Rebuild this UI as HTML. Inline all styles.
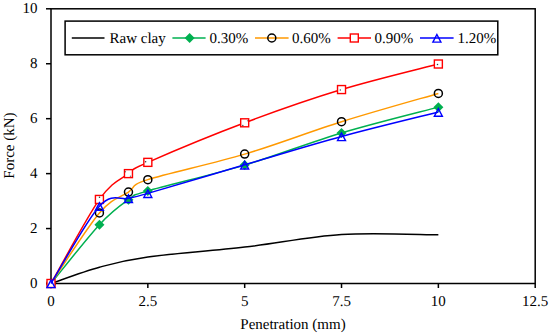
<!DOCTYPE html>
<html><head><meta charset="utf-8"><style>
html,body{margin:0;padding:0;background:#fff;}
body{width:550px;height:336px;overflow:hidden;}
svg{display:block;}
.t{font-family:"Liberation Serif",serif;font-size:15px;fill:#000;text-rendering:geometricPrecision;}
svg{-webkit-font-smoothing:antialiased;}
</style></head><body>
<svg width="550" height="336" viewBox="0 0 550 336">
<rect width="550" height="336" fill="#fff"/>
<rect x="51.00" y="8.80" width="484.20" height="274.70" fill="none" stroke="#000" stroke-width="1.5"/>
<line x1="46" y1="283.50" x2="51.00" y2="283.50" stroke="#000" stroke-width="1.5"/>
<text x="37.5" y="287.80" text-anchor="end" class="t">0</text>
<line x1="46" y1="228.56" x2="51.00" y2="228.56" stroke="#000" stroke-width="1.5"/>
<text x="37.5" y="232.86" text-anchor="end" class="t">2</text>
<line x1="46" y1="173.62" x2="51.00" y2="173.62" stroke="#000" stroke-width="1.5"/>
<text x="37.5" y="177.92" text-anchor="end" class="t">4</text>
<line x1="46" y1="118.68" x2="51.00" y2="118.68" stroke="#000" stroke-width="1.5"/>
<text x="37.5" y="122.98" text-anchor="end" class="t">6</text>
<line x1="46" y1="63.74" x2="51.00" y2="63.74" stroke="#000" stroke-width="1.5"/>
<text x="37.5" y="68.04" text-anchor="end" class="t">8</text>
<line x1="46" y1="8.80" x2="51.00" y2="8.80" stroke="#000" stroke-width="1.5"/>
<text x="37.5" y="13.10" text-anchor="end" class="t">10</text>
<line x1="51.00" y1="283.50" x2="51.00" y2="288" stroke="#000" stroke-width="1.5"/>
<text x="51.00" y="306.4" text-anchor="middle" class="t">0</text>
<line x1="147.84" y1="283.50" x2="147.84" y2="288" stroke="#000" stroke-width="1.5"/>
<text x="147.84" y="306.4" text-anchor="middle" class="t">2.5</text>
<line x1="244.68" y1="283.50" x2="244.68" y2="288" stroke="#000" stroke-width="1.5"/>
<text x="244.68" y="306.4" text-anchor="middle" class="t">5</text>
<line x1="341.52" y1="283.50" x2="341.52" y2="288" stroke="#000" stroke-width="1.5"/>
<text x="341.52" y="306.4" text-anchor="middle" class="t">7.5</text>
<line x1="438.36" y1="283.50" x2="438.36" y2="288" stroke="#000" stroke-width="1.5"/>
<text x="438.36" y="306.4" text-anchor="middle" class="t">10</text>
<line x1="535.20" y1="283.50" x2="535.20" y2="288" stroke="#000" stroke-width="1.5"/>
<text x="535.20" y="306.4" text-anchor="middle" class="t">12.5</text>
<text x="293" y="328.7" text-anchor="middle" class="t">Penetration (mm)</text>
<text transform="translate(13.6,145.6) rotate(-90)" text-anchor="middle" class="t">Force (kN)</text>
<path d="M51.00,283.50 C59.07,280.79 83.28,271.65 99.42,267.24 C115.56,262.82 123.63,260.37 147.84,257.02 C172.05,253.66 212.40,250.87 244.68,247.10 C276.96,243.33 309.24,236.46 341.52,234.41 C373.80,232.36 422.22,234.73 438.36,234.80" fill="none" stroke="#000000" stroke-width="1.50"/>
<path d="M51.00,283.50 C59.07,273.70 86.51,238.68 99.42,224.71 C112.33,210.75 120.40,205.35 128.47,199.72 C136.54,194.09 128.47,196.69 147.84,190.93 C167.21,185.16 212.40,174.76 244.68,165.10 C276.96,155.44 309.24,142.62 341.52,132.96 C373.80,123.30 422.22,111.45 438.36,107.14" fill="none" stroke="#00B050" stroke-width="1.50"/>
<path d="M51.00,278.50 L56.00,283.50 L51.00,288.50 L46.00,283.50 Z" fill="#00B050"/>
<path d="M99.42,219.71 L104.42,224.71 L99.42,229.71 L94.42,224.71 Z" fill="#00B050"/>
<path d="M128.47,194.72 L133.47,199.72 L128.47,204.72 L123.47,199.72 Z" fill="#00B050"/>
<path d="M147.84,185.93 L152.84,190.93 L147.84,195.93 L142.84,190.93 Z" fill="#00B050"/>
<path d="M244.68,160.10 L249.68,165.10 L244.68,170.10 L239.68,165.10 Z" fill="#00B050"/>
<path d="M341.52,127.96 L346.52,132.96 L341.52,137.96 L336.52,132.96 Z" fill="#00B050"/>
<path d="M438.36,102.14 L443.36,107.14 L438.36,112.14 L433.36,107.14 Z" fill="#00B050"/>
<path d="M51.00,283.50 C59.07,271.73 86.51,228.15 99.42,212.90 C112.33,197.66 120.40,197.56 128.47,192.02 C136.54,186.49 128.47,185.98 147.84,179.66 C167.21,173.35 212.40,163.78 244.68,154.12 C276.96,144.46 309.24,131.82 341.52,121.70 C373.80,111.58 422.22,98.12 438.36,93.41" fill="none" stroke="#FF9900" stroke-width="1.50"/>
<circle cx="51.00" cy="283.50" r="4.0" fill="none" stroke="#000" stroke-width="1.5"/>
<circle cx="99.42" cy="212.90" r="4.0" fill="none" stroke="#000" stroke-width="1.5"/>
<circle cx="128.47" cy="192.02" r="4.0" fill="none" stroke="#000" stroke-width="1.5"/>
<circle cx="147.84" cy="179.66" r="4.0" fill="none" stroke="#000" stroke-width="1.5"/>
<circle cx="244.68" cy="154.12" r="4.0" fill="none" stroke="#000" stroke-width="1.5"/>
<circle cx="341.52" cy="121.70" r="4.0" fill="none" stroke="#000" stroke-width="1.5"/>
<circle cx="438.36" cy="93.41" r="4.0" fill="none" stroke="#000" stroke-width="1.5"/>
<path d="M51.00,283.50 C59.07,269.49 86.51,217.76 99.42,199.44 C112.33,181.13 120.40,179.80 128.47,173.62 C136.54,167.44 128.47,170.83 147.84,162.36 C167.21,153.89 212.40,134.93 244.68,122.80 C276.96,110.67 309.24,99.36 341.52,89.56 C373.80,79.76 422.22,68.27 438.36,64.01" fill="none" stroke="#FF0000" stroke-width="1.50"/>
<rect x="47.00" y="279.50" width="8" height="8" fill="#fff" stroke="#FF0000" stroke-width="1.4"/>
<rect x="95.42" y="195.44" width="8" height="8" fill="#fff" stroke="#FF0000" stroke-width="1.4"/>
<rect x="124.47" y="169.62" width="8" height="8" fill="#fff" stroke="#FF0000" stroke-width="1.4"/>
<rect x="143.84" y="158.36" width="8" height="8" fill="#fff" stroke="#FF0000" stroke-width="1.4"/>
<rect x="240.68" y="118.80" width="8" height="8" fill="#fff" stroke="#FF0000" stroke-width="1.4"/>
<rect x="337.52" y="85.56" width="8" height="8" fill="#fff" stroke="#FF0000" stroke-width="1.4"/>
<rect x="434.36" y="60.01" width="8" height="8" fill="#fff" stroke="#FF0000" stroke-width="1.4"/>
<path d="M51.00,283.50 C59.07,270.63 86.51,220.50 99.42,206.31 C112.33,192.12 120.40,200.49 128.47,198.34 C136.54,196.19 128.47,198.98 147.84,193.40 C167.21,187.81 212.40,174.31 244.68,164.83 C276.96,155.35 309.24,145.33 341.52,136.54 C373.80,127.75 422.22,116.16 438.36,112.09" fill="none" stroke="#0000FF" stroke-width="1.50"/>
<path d="M51.00,280.00 L55.00,287.60 L47.00,287.60 Z" fill="none" stroke="#0000FF" stroke-width="1.4" stroke-linejoin="miter"/>
<path d="M99.42,202.81 L103.42,210.41 L95.42,210.41 Z" fill="none" stroke="#0000FF" stroke-width="1.4" stroke-linejoin="miter"/>
<path d="M128.47,194.84 L132.47,202.44 L124.47,202.44 Z" fill="none" stroke="#0000FF" stroke-width="1.4" stroke-linejoin="miter"/>
<path d="M147.84,189.90 L151.84,197.50 L143.84,197.50 Z" fill="none" stroke="#0000FF" stroke-width="1.4" stroke-linejoin="miter"/>
<path d="M244.68,161.33 L248.68,168.93 L240.68,168.93 Z" fill="none" stroke="#0000FF" stroke-width="1.4" stroke-linejoin="miter"/>
<path d="M341.52,133.04 L345.52,140.64 L337.52,140.64 Z" fill="none" stroke="#0000FF" stroke-width="1.4" stroke-linejoin="miter"/>
<path d="M438.36,108.59 L442.36,116.19 L434.36,116.19 Z" fill="none" stroke="#0000FF" stroke-width="1.4" stroke-linejoin="miter"/>
<circle cx="99.5" cy="197.3" r="0.75" fill="#222" opacity="0.9"/>
<circle cx="125.4" cy="171.7" r="0.75" fill="#222" opacity="0.6"/>
<circle cx="130.5" cy="176.3" r="0.75" fill="#222" opacity="0.6"/>
<circle cx="145.6" cy="161.7" r="0.75" fill="#222" opacity="0.9"/>
<circle cx="242.8" cy="125.6" r="0.75" fill="#222" opacity="0.8"/>
<circle cx="247.6" cy="120.8" r="0.75" fill="#222" opacity="0.5"/>
<circle cx="340.3" cy="89.9" r="0.75" fill="#222" opacity="0.8"/>
<circle cx="437.5" cy="64.4" r="0.75" fill="#222" opacity="0.9"/>
<rect x="65.1" y="21.1" width="432.7" height="33.7" fill="#fff" stroke="#000" stroke-width="1.5"/>
<line x1="71.80" y1="38.00" x2="104.50" y2="38.00" stroke="#000000" stroke-width="1.50"/>
<text x="109.50" y="43.00" class="t">Raw clay</text>
<line x1="172.40" y1="38.00" x2="205.60" y2="38.00" stroke="#00B050" stroke-width="1.50"/>
<path d="M189.60,33.00 L194.60,38.00 L189.60,43.00 L184.60,38.00 Z" fill="#00B050"/>
<text x="209.60" y="43.00" class="t">0.30%</text>
<line x1="255.00" y1="38.00" x2="288.60" y2="38.00" stroke="#FF9900" stroke-width="1.50"/>
<circle cx="271.80" cy="38.00" r="4.0" fill="none" stroke="#000" stroke-width="1.5"/>
<text x="292.00" y="43.00" class="t">0.60%</text>
<line x1="337.60" y1="38.00" x2="371.00" y2="38.00" stroke="#FF0000" stroke-width="1.50"/>
<rect x="350.30" y="34.00" width="8" height="8" fill="#fff" stroke="#FF0000" stroke-width="1.4"/>
<text x="374.40" y="43.00" class="t">0.90%</text>
<line x1="420.00" y1="38.00" x2="453.60" y2="38.00" stroke="#0000FF" stroke-width="1.50"/>
<path d="M436.90,34.50 L440.90,42.10 L432.90,42.10 Z" fill="none" stroke="#0000FF" stroke-width="1.4" stroke-linejoin="miter"/>
<text x="457.60" y="43.00" class="t">1.20%</text>
</svg>
</body></html>
